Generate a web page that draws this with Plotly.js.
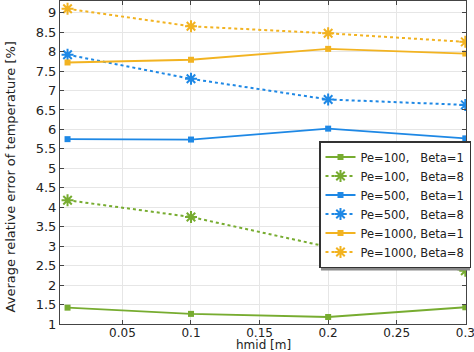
<!DOCTYPE html>
<html>
<head>
<meta charset="utf-8">
<script src="https://cdn.plot.ly/plotly-3.0.1.min.js"></script>
<style>html,body{margin:0;padding:0;background:#fff;}#chart{width:474px;height:352px;}</style>
</head>
<body>
<div id="chart"></div>
<script>
const hmid = [0.01, 0.1, 0.2, 0.3];
const pe100_b1 = [1.42, 1.26, 1.18, 1.43];
const pe100_b8 = [4.18, 3.75, 2.98, 2.37];
const pe500_b1 = [5.75, 5.74, 6.02, 5.77];
const pe500_b8 = [7.92, 7.30, 6.77, 6.63];
const pe1000_b1 = [7.72, 7.79, 8.07, 7.95];
const pe1000_b8 = [9.10, 8.65, 8.47, 8.25];
const names = ["Pe=100,\u00a0\u00a0\u00a0Beta=1", "Pe=100,\u00a0\u00a0\u00a0Beta=8",
               "Pe=500,\u00a0\u00a0\u00a0Beta=1", "Pe=500,\u00a0\u00a0\u00a0Beta=8",
               "Pe=1000, Beta=1", "Pe=1000, Beta=8"];
const xTitle = "hmid [m]";
const yTitle = "Average relative error of temperature [%]";

const green = "#77ac30", blue = "#1e88e5", orange = "#f2b321";
function solid(y, name, c) {
  return {x: hmid, y: y, name: name, mode: "lines+markers", type: "scatter",
    line: {color: c, width: 1.8},
    marker: {symbol: "square", size: 6, color: c}};
}
function dotted(y, name, c) {
  return {x: hmid, y: y, name: name, mode: "lines+markers", type: "scatter",
    line: {color: c, width: 2, dash: "dot"},
    marker: {symbol: "asterisk-open", size: 10, color: c, line: {color: c, width: 2}}};
}
const data = [
  solid(pe100_b1, names[0], green), dotted(pe100_b8, names[1], green),
  solid(pe500_b1, names[2], blue), dotted(pe500_b8, names[3], blue),
  solid(pe1000_b1, names[4], orange), dotted(pe1000_b8, names[5], orange)
];
const font = {family: "DejaVu Sans", size: 12, color: "#222"};
const W = 406, H = 323;
function px(x) { return (x - 60) / W; }
function py(y) { return 1 - (y - 1) / H; }
const layout = {
  width: 474, height: 352,
  margin: {l: 60, r: 8, t: 1, b: 28},
  paper_bgcolor: "#fff", plot_bgcolor: "#fff",
  font: font,
  showlegend: true,
  legend: {x: px(319), y: py(141), xanchor: "left", yanchor: "top",
    bgcolor: "#fff", bordercolor: "#333", borderwidth: 1.5, itemwidth: 30,
    font: {family: "DejaVu Sans", size: 11.5, color: "#222"}, tracegroupgap: 0},
  xaxis: {range: [0.0045, 0.3005], dtick: 0.05, tick0: 0, ticks: "inside", ticklen: 4,
    showgrid: true, gridcolor: "#e6e6e6", zeroline: false,
    showline: true, linecolor: "#444", linewidth: 1, mirror: "ticks",
    tickfont: font, automargin: false, ticklabeloverflow: "allow", ticklabelstandoff: -2},
  yaxis: {range: [1, 9.3], dtick: 0.5, tick0: 0, ticks: "inside", ticklen: 4,
    showgrid: true, gridcolor: "#e6e6e6", zeroline: false,
    showline: true, linecolor: "#444", linewidth: 1, mirror: "ticks",
    tickfont: {family: "DejaVu Sans", size: 13, color: "#222"}, automargin: false,
    ticklabeloverflow: "allow"},
  shapes: [{type: "rect", xref: "paper", yref: "paper", layer: "above",
    x0: px(321), x1: px(470), y0: py(270.5), y1: py(143),
    fillcolor: "#8a8a8a", line: {width: 0}}],
  annotations: [
    {text: yTitle, textangle: -90, showarrow: false,
     xref: "paper", yref: "paper", x: -0.123, y: 0.454, xanchor: "center", yanchor: "middle",
     font: {family: "DejaVu Sans", size: 13, color: "#222"}},
    {text: xTitle, showarrow: false, borderpad: 0,
     xref: "paper", yref: "paper", x: 0.5, y: -0.0895, xanchor: "center", yanchor: "bottom",
     font: {family: "DejaVu Sans", size: 12, color: "#222"}}
  ]
};
Plotly.newPlot("chart", data, layout, {displayModeBar: false, staticPlot: true});
</script>
</body>
</html>
